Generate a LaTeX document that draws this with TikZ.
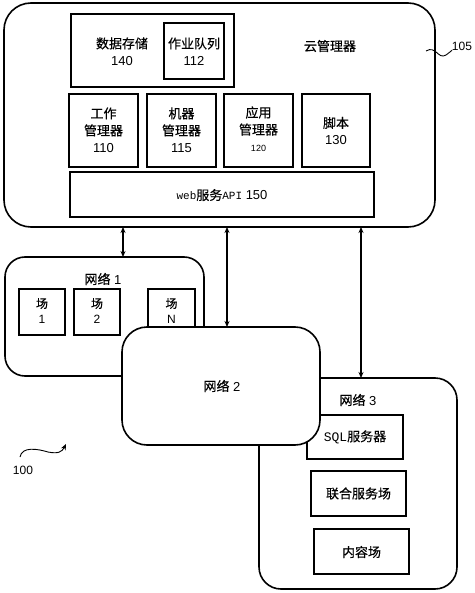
\documentclass[tikz,border=0pt]{standalone}
\usepackage{fontspec}
\setmainfont{Liberation Sans}
\newfontfamily\cjk[FakeBold=0.4]{Noto Sans CJK SC}
\newfontfamily\monof{Liberation Mono}
\usetikzlibrary{arrows.meta}
\newcommand{\zh}[1]{{\cjk #1}}
\begin{document}
\begin{tikzpicture}[x=1pt,y=-1pt,
  every node/.style={inner sep=0pt, outer sep=0pt},
  txt/.style={font=\fontsize{13}{17}\selectfont, align=center},
  sbox/.style={draw, line width=1.1pt, fill=white},
  rbox/.style={draw, line width=1.6pt, fill=white},
  link/.style={line width=1.1pt, {Stealth[length=6pt,width=5pt]}-{Stealth[length=6pt,width=5pt]}}]
\useasboundingbox (0,0) rectangle (474,593);
% cloud manager
\node[rbox, rounded corners=27pt, minimum width=431pt, minimum height=224pt] (cloud) at (219.5,115) {};
\node[sbox, minimum width=163pt, minimum height=73pt] (ds) at (152.5,50.5) {};
\node[sbox, minimum width=60pt, minimum height=56pt] (jq) at (194,51) {};
\node[txt] (dsl) at (122,51.5) {\zh{数据存储}\\140};
\node[txt] (jql) at (194,51.5) {\zh{作业队列}\\112};
\node[txt] (cml) at (330,46) {\zh{云管理器}};
\node[sbox, minimum width=69pt, minimum height=73pt] (wm) at (103.5,130.5) {};
\node[sbox, minimum width=69pt, minimum height=73pt] (mm) at (181.5,130.5) {};
\node[sbox, minimum width=69pt, minimum height=73pt] (am) at (258.5,130.5) {};
\node[sbox, minimum width=68pt, minimum height=73pt] (sc) at (336,130.5) {};
\node[txt] (wml) at (103.5,130) {\zh{工作}\\\zh{管理器}\\110};
\node[txt] (mml) at (181.5,130) {\zh{机器}\\\zh{管理器}\\115};
\node[txt] (aml) at (258.5,129) {\zh{应用}\\\zh{管理器}\\{\fontsize{9}{10}\selectfont 120}};
\node[txt] (scl) at (336,131) {\zh{脚本}\\130};
\node[sbox, minimum width=304pt, minimum height=45pt] (api) at (222,194.5) {};
\node[txt] (apil) at (222,195) {{\monof\fontsize{11}{13}\selectfont web}\zh{服务}{\monof\fontsize{11}{13}\selectfont API} 150};
% 105 label
\node[txt, font=\fontsize{12}{14}\selectfont] (l105) at (462,46) {105};
\coordinate (s105a) at (426,51);
\draw[line width=0.9pt] (s105a) .. controls (436,45) and (438,60) .. (446,55) .. controls (450,52) .. (l105.south west);
% network 1
\node[rbox, rounded corners=20pt, minimum width=199pt, minimum height=119pt] (net1) at (104.5,316.5) {};
\node[txt] (n1l) at (103,279) {\zh{网络} 1};
\node[sbox, minimum width=46pt, minimum height=46pt] (f1) at (42,312) {};
\node[sbox, minimum width=46pt, minimum height=46pt] (f2) at (97,312) {};
\node[sbox, minimum width=47pt, minimum height=46pt] (fN) at (171.5,312) {};
\node[txt, font=\fontsize{12}{16}\selectfont] (f1l) at (42,311) {\zh{场}\\1};
\node[txt, font=\fontsize{12}{16}\selectfont] (f2l) at (97,311) {\zh{场}\\2};
\node[txt, font=\fontsize{12}{16}\selectfont] (fNl) at (171.5,311) {\zh{场}\\N};
% network 3
\node[rbox, rounded corners=22pt, minimum width=198pt, minimum height=211pt] (net3) at (358,483.5) {};
\node[txt] (n3l) at (358,400) {\zh{网络} 3};
\node[sbox, minimum width=96pt, minimum height=44pt] (sql) at (355,437) {};
\node[txt] (sqll) at (355,437) {{\monof SQL}\zh{服务器}};
\node[sbox, minimum width=95pt, minimum height=45pt] (fed) at (358.5,493.5) {};
\node[txt] (fedl) at (358.5,493.5) {\zh{联合服务场}};
\node[sbox, minimum width=95pt, minimum height=45pt] (cont) at (361.5,551.5) {};
\node[txt] (contl) at (361.5,552) {\zh{内容场}};
% network 2
\node[rbox, rounded corners=25pt, minimum width=198pt, minimum height=118pt] (net2) at (221,386) {};
\node[txt] (n2l) at (222,386) {\zh{网络} 2};
% links
\coordinate (c1) at (123,0);
\coordinate (c2) at (227,0);
\coordinate (c3) at (361,0);
\draw[link] (c1 |- cloud.south) -- (c1 |- net1.north);
\draw[link] (c2 |- cloud.south) -- (c2 |- net2.north);
\draw[link] (c3 |- cloud.south) -- (c3 |- net3.north);
% 100 label
\node[txt, font=\fontsize{12}{14}\selectfont] (l100) at (23,470) {100};
\coordinate (s100a) at (20,457);
\coordinate (s100b) at (66,444);
\draw[line width=0.9pt, -{Stealth[length=6pt,width=5pt]}] (s100a) .. controls (22,446) and (38,449) .. (48,452) .. controls (58,454) and (62,452) .. (s100b);
\end{tikzpicture}
\end{document}
